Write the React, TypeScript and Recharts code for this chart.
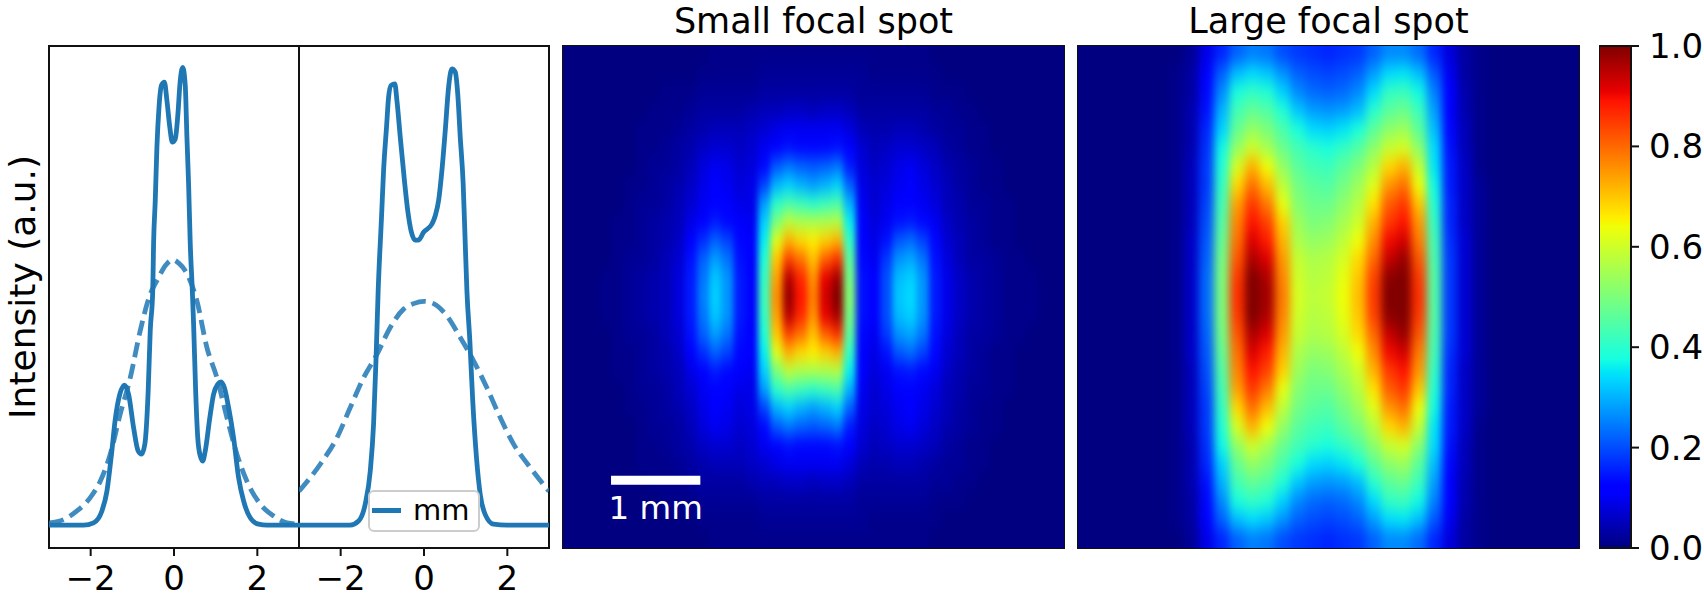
import { Bar, BarChart, Legend, Line, LineChart, ReferenceArea, Scatter, ScatterChart, XAxis, YAxis } from "recharts";

const FONT = "'DejaVu Sans', sans-serif";
const BLUE = "#1f77b4";
const xTicks = [-2, 0, 2];
const barTicks = [0, 0.2, 0.4, 0.6, 0.8, 1];
const yRange = [-0.05, 1.047];

// profiles
const leftSolidX = [-3, -2.17, -1.93, -1.73, -1.61, -1.5, -1.41, -1.3, -1.19, -1.09, -0.97, -0.86, -0.78, -0.7, -0.62, -0.57, -0.51, -0.49, -0.45, -0.41, -0.36, -0.3, -0.23, -0.17, -0.1, -0.04, 0.03, 0.1, 0.14, 0.21, 0.27, 0.31, 0.35, 0.39, 0.44, 0.47, 0.52, 0.57, 0.63, 0.69, 0.75, 0.86, 0.95, 1.05, 1.13, 1.21, 1.31, 1.43, 1.55, 1.67, 1.83, 2.03, 2.23, 3];
const leftSolidY = [0, 0, 0.005, 0.031, 0.074, 0.155, 0.231, 0.286, 0.306, 0.286, 0.213, 0.162, 0.155, 0.177, 0.293, 0.425, 0.512, 0.615, 0.709, 0.826, 0.913, 0.961, 0.968, 0.928, 0.869, 0.837, 0.844, 0.906, 0.961, 1, 0.961, 0.848, 0.746, 0.615, 0.512, 0.44, 0.293, 0.191, 0.151, 0.14, 0.162, 0.235, 0.286, 0.308, 0.313, 0.3, 0.257, 0.191, 0.104, 0.053, 0.016, 0.002, 0, 0];
const leftDashX = [-3, -2.65, -2.33, -2.01, -1.77, -1.53, -1.29, -1.05, -0.81, -0.57, -0.41, -0.2, -0.03, 0.12, 0.27, 0.55, 0.79, 1.03, 1.27, 1.51, 1.75, 2.07, 2.39, 2.71, 3];
const leftDashY = [0.005, 0.012, 0.031, 0.06, 0.096, 0.155, 0.243, 0.322, 0.425, 0.505, 0.534, 0.568, 0.58, 0.572, 0.556, 0.49, 0.388, 0.322, 0.235, 0.155, 0.096, 0.046, 0.02, 0.005, 0.002];
const rightSolidX = [-3, -1.77, -1.57, -1.41, -1.29, -1.21, -1.15, -1.1, -1.02, -0.97, -0.9, -0.85, -0.79, -0.7, -0.65, -0.57, -0.47, -0.39, -0.31, -0.21, -0.13, -0.01, 0.19, 0.27, 0.35, 0.43, 0.51, 0.59, 0.67, 0.75, 0.81, 0.87, 0.94, 0.99, 1.03, 1.1, 1.17, 1.26, 1.35, 1.47, 1.67, 1.99, 3];
const rightSolidY = [0, 0, 0.009, 0.046, 0.118, 0.221, 0.366, 0.512, 0.672, 0.775, 0.869, 0.935, 0.961, 0.964, 0.928, 0.848, 0.753, 0.687, 0.643, 0.623, 0.623, 0.64, 0.658, 0.676, 0.709, 0.775, 0.862, 0.957, 0.997, 0.99, 0.942, 0.848, 0.746, 0.615, 0.512, 0.403, 0.271, 0.147, 0.067, 0.023, 0.002, 0, 0];
const rightDashX = [-3, -2.49, -2.09, -1.77, -1.45, -1.13, -0.81, -0.49, -0.25, 0, 0.23, 0.55, 0.87, 1.19, 1.51, 1.83, 2.15, 2.49, 3];
const rightDashY = [0.074, 0.133, 0.191, 0.257, 0.322, 0.373, 0.432, 0.472, 0.484, 0.489, 0.484, 0.457, 0.41, 0.359, 0.3, 0.235, 0.177, 0.133, 0.074];

// intensity in percent, top row down to the middle row (the images mirror top to bottom)
const smallSpot = [
  [0,0,0,0,0,0,0,0,0,0,0,0,1,1,1,1,1,1,1,1,1,1,1,1,1,1,1,1,1,1,0,0,0,0,0,0,0,0,0,0,0],
  [0,0,0,0,0,0,0,0,0,0,0,1,1,1,1,1,2,2,2,2,2,2,2,2,2,1,1,1,1,1,1,0,0,0,0,0,0,0,0,0,0],
  [0,0,0,0,0,0,0,0,1,1,1,2,2,2,2,2,3,3,3,3,3,3,3,3,2,2,2,2,2,2,1,1,1,0,0,0,0,0,0,0,0],
  [0,0,0,0,0,0,0,1,1,1,2,3,3,3,3,4,5,5,6,6,5,6,6,5,3,3,3,3,3,3,2,2,1,1,0,0,0,0,0,0,0],
  [0,0,0,0,0,0,1,1,1,2,3,4,5,5,5,6,7,9,10,10,10,10,10,8,5,4,4,5,5,4,3,2,2,1,1,0,0,0,0,0,0],
  [0,0,0,0,0,0,1,1,2,3,4,6,7,7,6,7,10,12,14,13,13,13,14,11,7,5,6,7,7,6,5,3,2,1,1,0,0,0,0,0,0],
  [0,0,0,0,0,0,1,2,2,3,5,8,10,9,7,8,13,21,24,22,21,22,24,15,8,6,7,9,10,8,6,4,3,2,1,1,0,0,0,0,0],
  [0,0,0,0,0,1,1,2,3,4,6,9,11,10,8,9,19,30,33,30,28,30,33,22,9,7,8,10,11,9,7,5,3,2,1,1,0,0,0,0,0],
  [0,0,0,0,0,1,2,2,3,5,7,10,12,11,9,9,28,40,44,42,40,42,44,30,10,7,9,11,12,10,8,5,4,2,2,1,1,0,0,0,0],
  [0,0,0,0,1,1,2,3,4,5,9,12,15,13,11,10,33,50,58,56,56,56,57,36,11,8,10,14,15,13,10,6,4,3,2,1,1,0,0,0,0],
  [0,0,0,0,1,1,2,3,4,6,12,17,22,19,13,11,36,62,72,68,66,69,72,41,12,9,14,21,23,19,13,7,5,3,2,1,1,0,0,0,0],
  [0,0,0,0,1,2,2,3,5,7,14,22,28,24,14,11,39,70,84,79,71,81,86,46,13,10,18,27,29,24,14,8,5,3,3,2,1,1,0,0,0],
  [0,0,0,1,1,2,3,4,5,8,15,24,32,27,15,12,41,74,95,87,76,91,97,49,14,11,20,31,33,27,15,9,6,4,3,2,1,1,1,0,0],
  [0,0,0,1,1,2,3,4,5,8,15,25,33,27,15,12,42,76,98,89,78,93,100,51,14,11,20,32,34,27,15,9,6,4,3,2,1,1,1,0,0],
];
const largeSpot = [
  [0,0,0,0,0,0,0,2,9,16,22,25,24,20,18,17,16,17,18,22,26,26,23,16,8,3,1,0,0,0,0,0,0],
  [0,0,0,0,0,0,1,3,11,22,31,34,32,27,22,20,19,20,22,28,34,35,31,21,10,3,1,0,0,0,0,0,0],
  [0,0,0,0,0,0,1,3,13,26,38,41,39,33,26,23,22,23,26,34,41,42,37,25,11,4,1,0,0,0,0,0,0],
  [0,0,0,0,0,0,1,4,14,30,43,47,45,39,32,28,27,28,31,40,46,48,42,28,12,4,1,0,0,0,0,0,0],
  [0,0,0,0,0,0,1,4,16,33,47,53,50,44,38,34,33,35,38,46,52,54,46,31,13,5,1,0,0,0,0,0,0],
  [0,0,0,0,0,0,1,4,17,37,53,60,55,48,43,40,38,41,45,52,59,61,52,34,14,5,1,0,0,0,0,0,0],
  [0,0,0,0,0,0,1,5,18,39,61,72,64,53,46,43,42,46,50,57,68,72,59,35,15,6,1,0,0,0,0,0,0],
  [0,0,0,0,0,0,1,5,18,41,68,79,71,58,49,46,45,49,54,62,75,79,64,37,15,6,2,0,0,0,0,0,0],
  [0,0,0,0,0,0,1,5,19,43,74,85,78,63,51,48,48,52,57,67,81,85,70,39,16,6,2,0,0,0,0,0,0],
  [0,0,0,0,0,0,1,5,20,45,77,89,84,69,54,50,51,55,60,72,85,89,75,41,16,6,2,0,0,0,0,0,0],
  [0,0,0,0,0,0,1,6,21,47,79,92,88,72,56,53,54,58,64,76,90,93,78,43,17,7,2,0,0,0,0,0,0],
  [0,0,0,0,0,0,1,6,22,49,82,96,92,75,59,56,57,61,68,80,94,98,82,44,18,7,2,0,0,0,0,0,0],
  [0,0,0,0,0,0,1,6,23,50,85,100,96,77,60,57,58,63,70,84,99,100,85,45,18,7,2,0,0,0,0,0,0],
  [0,0,0,0,0,0,1,6,23,50,86,100,97,78,61,58,59,64,71,85,100,100,86,45,18,7,2,0,0,0,0,0,0],
];
const scaleBarEnds = [3.43, 10.74];

// matplotlib jet breakpoints
const jetR = [[0, 0], [0.35, 0], [0.66, 1], [0.89, 1], [1, 0.5]];
const jetG = [[0, 0], [0.125, 0], [0.375, 1], [0.64, 1], [0.91, 0], [1, 0]];
const jetB = [[0, 0.5], [0.11, 1], [0.34, 1], [0.65, 0], [1, 0]];
const jetStops = [0, 0.11, 0.125, 0.34, 0.35, 0.375, 0.64, 0.65, 0.66, 0.89, 0.91, 1];

const channel = (table: number[][], v: number) => {
  for (let i = 1; i < table.length; i++) {
    if (v <= table[i][0]) {
      const t = (v - table[i - 1][0]) / (table[i][0] - table[i - 1][0]);
      return Math.round(255 * (table[i - 1][1] + t * (table[i][1] - table[i - 1][1])));
    }
  }
  return Math.round(255 * table[table.length - 1][1]);
};
const jet = (v: number) => `rgb(${channel(jetR, v)},${channel(jetG, v)},${channel(jetB, v)})`;

const zip = (xs: number[], ys: number[]) => xs.map((x, i) => ({ x, y: ys[i] }));

function toCells(half: number[][]) {
  const rows = [...half, ...half.slice(0, -1).reverse()];
  return rows.flatMap((row, r) => row.map((v, c) => ({ col: c, row: r, value: v / 100 })));
}

const tickStyle = { fontSize: 34, fill: "#000", fontFamily: FONT };

function ProfileChart({ solid, dashed, width, left, withLabel, legend }: any) {
  return (
    <div style={{ position: "absolute", left, top: 0 }}>
      <LineChart width={width} height={596} margin={{ top: 46, right: 1, left: 0, bottom: 0 }}>
        <XAxis
          type="number"
          dataKey="x"
          domain={[-3, 3]}
          ticks={xTicks}
          interval={0}
          allowDataOverflow
          height={48}
          axisLine={false}
          tickSize={8}
          tickMargin={10}
          tick={tickStyle}
          tickLine={{ stroke: "#111", strokeWidth: 2 }}
          tickFormatter={(v: number) => String(v).replace("-", "\u2212")}
        />
        <YAxis
          domain={yRange}
          type="number"
          allowDataOverflow
          width={withLabel ? 49 : 0}
          hide={!withLabel}
          tick={false}
          axisLine={false}
          tickLine={false}
          label={withLabel ? { value: "Intensity (a.u.)", angle: -90, position: "insideLeft", dx: 17, dy: -10, style: { ...tickStyle, fontSize: 36, textAnchor: "middle" } } : undefined}
        />
        <Line data={solid} dataKey="y" type="monotone" stroke={BLUE} strokeWidth={4.8} dot={false} isAnimationActive={false} name="mm" />
        <Line data={dashed} dataKey="y" type="monotone" stroke={BLUE} strokeOpacity={0.85} strokeWidth={4.8} strokeDasharray="15 7" dot={false} isAnimationActive={false} legendType="none" />
        <ReferenceArea x1={-3} x2={3} y1={yRange[0]} y2={yRange[1]} fill="none" stroke="#111" strokeWidth={2} fillOpacity={0} />
        {legend && (
          <Legend
            layout="horizontal"
            verticalAlign="middle"
            align="center"
            wrapperStyle={{ left: 69, top: 490, width: 112, height: 42 }}
            content={() => (
              <div style={{ boxSizing: "border-box", width: 112, height: 42, background: "rgba(255,255,255,0.8)", border: "2px solid #ccc", borderRadius: 6, position: "relative", fontFamily: FONT, fontSize: 29 }}>
                <div style={{ position: "absolute", left: 2, top: 16, width: 29, height: 4.8, background: BLUE }} />
                <div style={{ position: "absolute", left: 43, top: -1, lineHeight: "38px", color: "#000" }}>mm</div>
              </div>
            )}
          />
        )}
      </LineChart>
    </div>
  );
}

function HeatCell(props: any) {
  const { cx, cy, payload, cellW, cellH, cols, rows } = props;
  // edge cells run past the frame so the blur does not fade at the border
  const l = payload.col === 0 ? 30 : 0;
  const r = payload.col === cols - 1 ? 30 : 0;
  const t = payload.row === 0 ? 30 : 0;
  const b = payload.row === rows - 1 ? 30 : 0;
  return (
    <rect
      x={cx - cellW / 2 - 0.5 - l}
      y={cy - cellH / 2 - 0.5 - t}
      width={cellW + 1 + l + r}
      height={cellH + 1 + t + b}
      fill={jet(payload.value)}
    />
  );
}

function HeatMap({ half, left, title, blur, scaleBar }: any) {
  const W = 501;
  const H = 502;
  const cells = toCells(half);
  const cols = half[0].length;
  const rows = half.length * 2 - 1;
  const cellW = W / cols;
  const cellH = H / rows;
  const bar = scaleBarEnds.map((col) => ({ col, row: 22.85 }));
  return (
    <div style={{ position: "absolute", left, top: 46, width: W, height: H, outline: "2px solid #111", outlineOffset: -1, background: "#00007f" }}>
      <div style={{ position: "absolute", left: 0, right: 0, top: -45, textAlign: "center", fontFamily: FONT, fontSize: 35, lineHeight: "40px", color: "#000" }}>{title}</div>
      <div className={blur}>
        <ScatterChart width={W} height={H} margin={{ top: 0, right: 0, bottom: 0, left: 0 }}>
          <XAxis type="number" dataKey="col" domain={[-0.5, cols - 0.5]} hide />
          <YAxis type="number" dataKey="row" domain={[-0.5, rows - 0.5]} reversed hide />
          <Scatter className="heat-cells" data={cells} isAnimationActive={false} shape={(p: any) => <HeatCell {...p} cellW={cellW} cellH={cellH} cols={cols} rows={rows} />} />
          {scaleBar && (
            <Scatter data={bar} isAnimationActive={false} line={{ stroke: "#fff", strokeWidth: 9 }} shape={() => <g />} />
          )}
          {scaleBar && (
            <ReferenceArea
              x1={scaleBarEnds[0]}
              x2={scaleBarEnds[1]}
              y1={22.6}
              y2={23.1}
              fill="none"
              fillOpacity={0}
              stroke="none"
              label={{ value: "1 mm", position: "bottom", offset: 11, fill: "#fff", fontSize: 32.5, fontFamily: FONT }}
            />
          )}
        </ScatterChart>
      </div>
    </div>
  );
}

const barData = [{ name: "Intensity", value: 1 }];

function ColorBar() {
  return (
    <div style={{ position: "absolute", left: 1599, top: 0 }}>
      <BarChart width={105} height={596} data={barData} barCategoryGap={0} margin={{ top: 46, right: 0, left: 0, bottom: 48 }}>
        <defs>
          <linearGradient id="jetFill" x1="0" y1="1" x2="0" y2="0">
            {jetStops.map((s) => (
              <stop key={s} offset={s} stopColor={jet(s)} />
            ))}
          </linearGradient>
        </defs>
        <XAxis dataKey="name" hide />
        <YAxis
          orientation="right"
          domain={[0, 1]}
          ticks={barTicks}
          interval={0}
          width={73}
          axisLine={false}
          tickSize={8}
          tickMargin={10}
          tick={{ ...tickStyle, textAnchor: "start" }}
          tickLine={{ stroke: "#111", strokeWidth: 2 }}
          tickFormatter={(v: number) => v.toFixed(1)}
        />
        <Bar dataKey="value" fill="url(#jetFill)" stroke="#111" strokeWidth={2} isAnimationActive={false} />
      </BarChart>
    </div>
  );
}

export default function App() {
  return (
    <div style={{ position: "absolute", left: 0, top: 0, width: 1704, height: 596, overflow: "hidden", background: "#fff" }}>
      <style>{`.soft-small .heat-cells { filter: url(#softSmall); } .soft-large .heat-cells { filter: url(#softLarge); }`}</style>
      <svg width={0} height={0} style={{ position: "absolute" }}>
        <filter id="softSmall" x="-10%" y="-10%" width="120%" height="120%" colorInterpolationFilters="sRGB">
          <feGaussianBlur stdDeviation="3 8" />
        </filter>
        <filter id="softLarge" x="-10%" y="-10%" width="120%" height="120%" colorInterpolationFilters="sRGB">
          <feGaussianBlur stdDeviation="4 8" />
        </filter>
      </svg>
      <ProfileChart solid={zip(leftSolidX, leftSolidY)} dashed={zip(leftDashX, leftDashY)} width={300} left={0} withLabel />
      <ProfileChart solid={zip(rightSolidX, rightSolidY)} dashed={zip(rightDashX, rightDashY)} width={251} left={299} legend />
      <HeatMap half={smallSpot} left={563} title="Small focal spot" blur="soft-small" scaleBar />
      <HeatMap half={largeSpot} left={1078} title="Large focal spot" blur="soft-large" />
      <ColorBar />
    </div>
  );
}
